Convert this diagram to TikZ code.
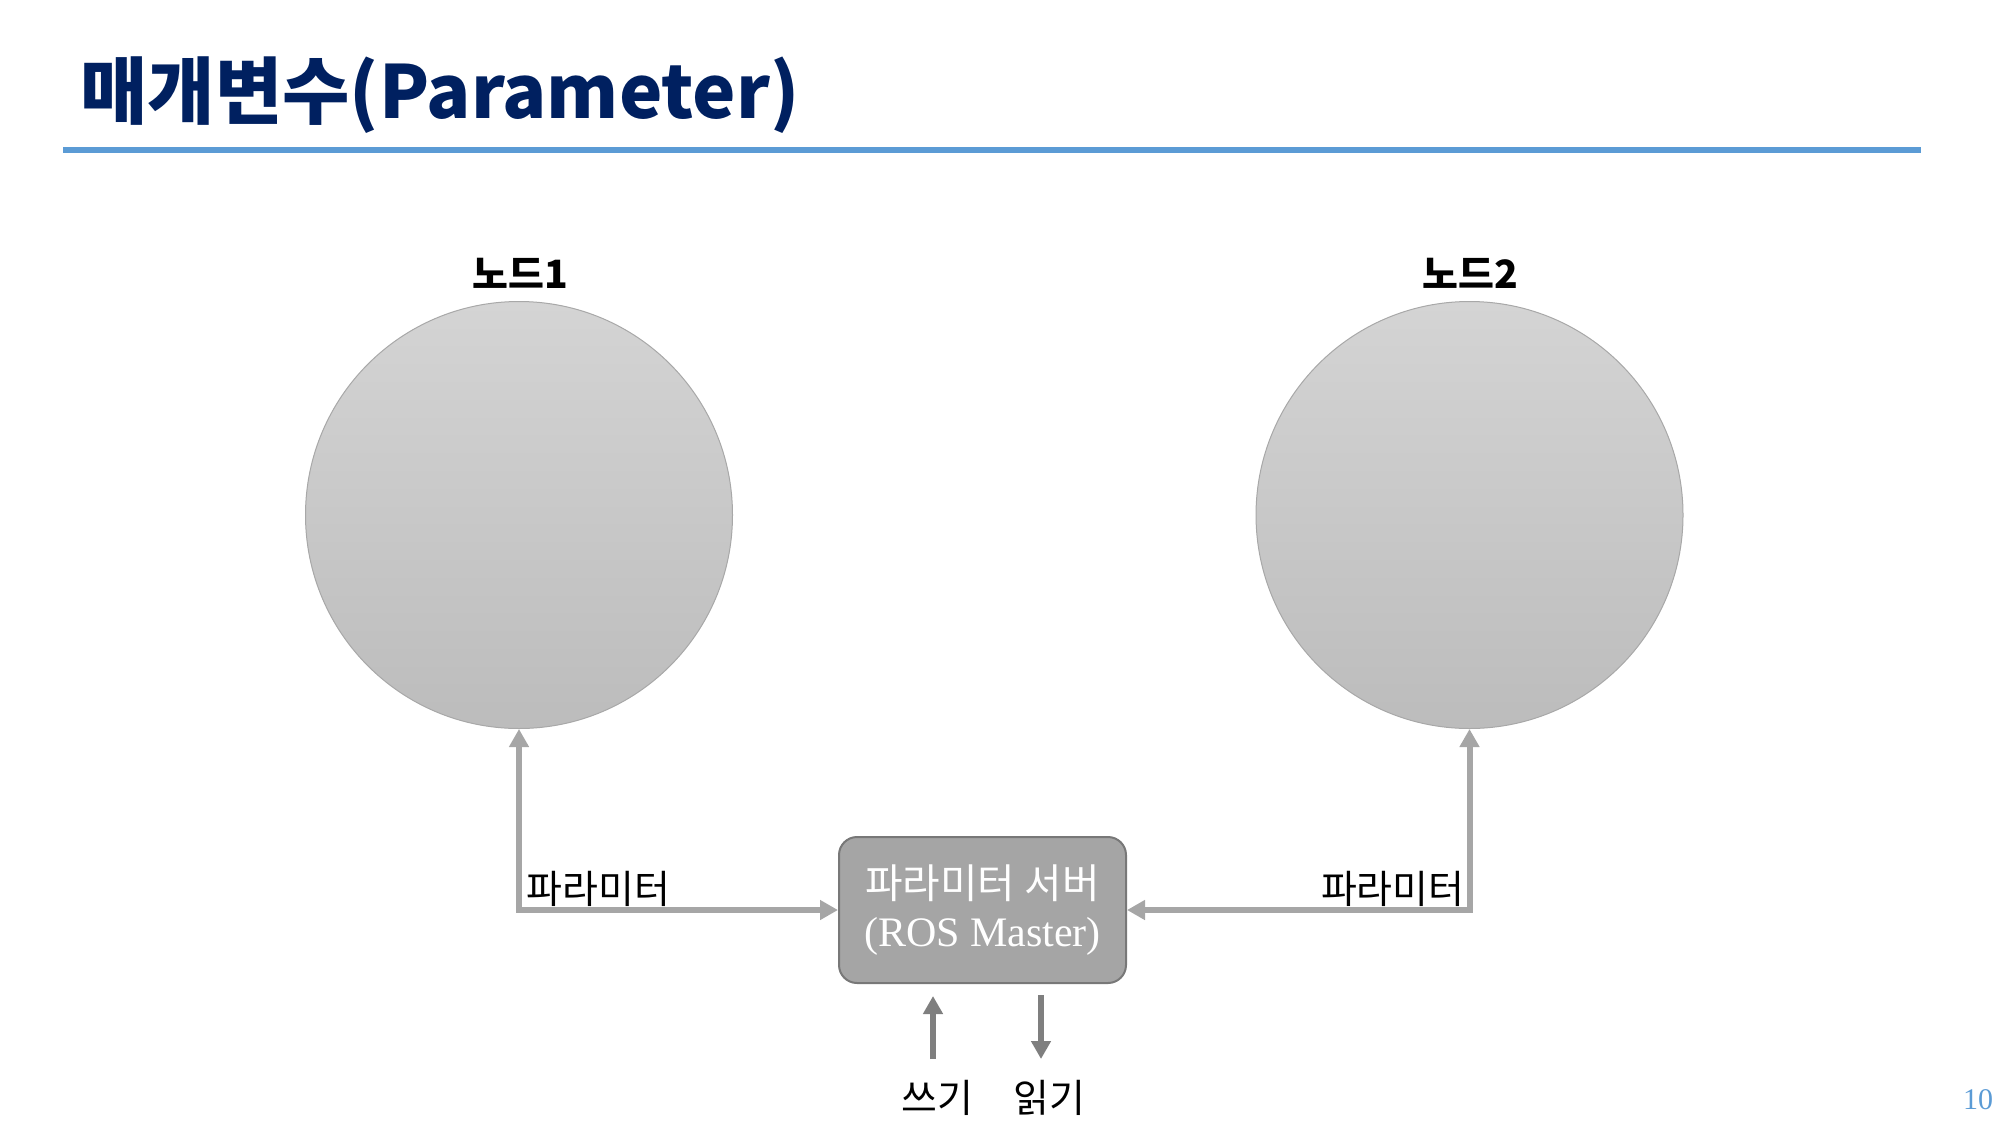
\documentclass[tikz,border=0pt]{standalone}
\usepackage{fontspec}
\setmainfont{Liberation Serif}
\newfontfamily\kr{Noto Sans CJK KR}
\usetikzlibrary{arrows.meta}
\definecolor{titleblue}{HTML}{002060}
\definecolor{lineblue}{HTML}{5B9BD5}
\definecolor{conngray}{HTML}{A6A6A6}
\definecolor{darkgray2}{HTML}{7F7F7F}
\definecolor{boxfill}{HTML}{A5A5A5}
\definecolor{boxline}{HTML}{787878}
\definecolor{ctop}{HTML}{D4D4D4}
\definecolor{cbot}{HTML}{BCBCBC}
\definecolor{cline}{HTML}{A8A8A8}
\tikzset{
  nodecircle/.style={circle, minimum size=213.5pt, inner sep=0pt, draw=cline, line width=0.5pt, top color=ctop, bottom color=cbot},
  nodelabel/.style={font=\kr\bfseries\fontsize{19.5}{22}\selectfont, text=black, inner sep=0pt},
  conn/.style={draw=conngray, line width=3pt, {Triangle[length=9pt,width=9.5pt]}-{Triangle[length=9pt,width=9.5pt]}},
  rwarrow/.style={draw=darkgray2, line width=3.3pt, -{Triangle[length=9pt,width=9.5pt]}},
  plabel/.style={font=\kr\fontsize{19.5}{22}\selectfont, text=black, inner sep=0pt},
  serverbox/.style={rounded corners=9pt, fill=boxfill, draw=boxline, line width=1pt, minimum width=143.5pt, minimum height=73pt, text=white, align=center, inner sep=0pt},
}
\begin{document}
\begin{tikzpicture}[x=0.5pt,y=-0.5pt]
\useasboundingbox (0,0) rectangle (2000,1125);
% title
\node[anchor=base west, inner sep=0pt, text=titleblue, font=\kr\bfseries\fontsize{36.6}{44}\selectfont] (title) at (80,118) {매개변수(Parameter)};
\draw[lineblue, line width=3pt] (63,150) -- (1921,150);
% nodes
\node[nodecircle] (n1) at (519,515) {};
\node[nodecircle] (n2) at (1469.5,515) {};
\node[nodelabel] (l1) at (520,273) {노드1};
\node[nodelabel] (l2) at (1470,273) {노드2};
% server
\node[serverbox] (srv) at (982.5,910) {{\kr\fontsize{20.4}{22}\selectfont 파라미터 서버}\\[7pt]{\fontsize{21}{24}\selectfont (ROS Master)}};
% connectors
\draw[conn] (n1.south) |- (srv.west);
\draw[conn] (n2.south) |- (srv.east);
\node[plabel, anchor=west] (p1) at (526,888.5) {파라미터};
\node[plabel, anchor=east] (p2) at (1465,888.5) {파라미터};
% write / read
\coordinate (wa) at (933,1059);
\coordinate (wb) at (933,996);
\coordinate (ra) at (1041,995);
\coordinate (rb) at (1041,1059);
\draw[rwarrow] (wa) -- (wb);
\draw[rwarrow] (ra) -- (rb);
\node[plabel] (w) at (937.5,1098) {쓰기};
\node[plabel] (r) at (1049,1098) {읽기};
% page number
\node[text=lineblue, font=\fontsize{15}{17}\selectfont, inner sep=0pt] (pg) at (1978,1100) {10};
\end{tikzpicture}
\end{document}
